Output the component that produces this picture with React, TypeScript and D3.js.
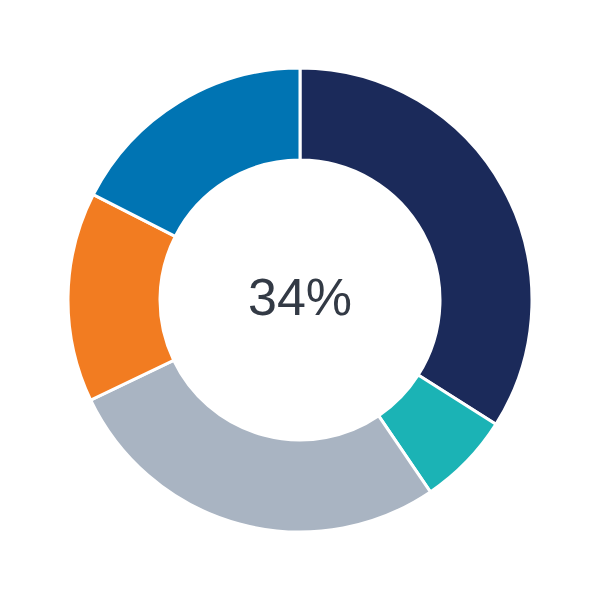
import { useEffect, useRef } from "react";
import * as d3 from "d3";

const categories = ["A", "B", "C", "D", "E"];
const values = [34, 6.5, 27.4, 14.6, 17.5];
const colors = ["#1b2a5a", "#1bb3b5", "#a9b4c2", "#f27c21", "#0074b3"];
const centerLabel = "34%";

const App = () => {
  const svgRef = useRef<SVGSVGElement>(null);

  useEffect(() => {
    if (!svgRef.current) return;
    const svg = d3.select(svgRef.current);
    svg.selectAll("*").remove();

    const size = 600;
    const outer = 232;
    const inner = 140;

    const g = svg
      .append("g")
      .attr("transform", `translate(${size / 2},${size / 2})`);

    const pie = d3
      .pie<number>()
      .sort(null)
      .value((d) => d);

    const arc = d3
      .arc<d3.PieArcDatum<number>>()
      .innerRadius(inner)
      .outerRadius(outer);

    const color = d3.scaleOrdinal<string>().domain(categories).range(colors);

    g.selectAll("path")
      .data(pie(values))
      .enter()
      .append("path")
      .attr("d", arc)
      .attr("fill", (_, i) => color(categories[i]))
      .attr("stroke", "#fff")
      .attr("stroke-width", 3)
      .attr("stroke-linejoin", "miter");

    g.append("text")
      .attr("x", 0)
      .attr("y", 15)
      .attr("text-anchor", "middle")
      .style("font-family", "'Liberation Sans', Arial, sans-serif")
      .style("font-size", "52px")
      .style("fill", "#333a45")
      .text(centerLabel);
  }, []);

  return (
    <div style={{ position: "absolute", left: 0, top: 0 }}>
      <svg ref={svgRef} width={600} height={600} style={{ display: "block" }} />
    </div>
  );
};

export default App;
